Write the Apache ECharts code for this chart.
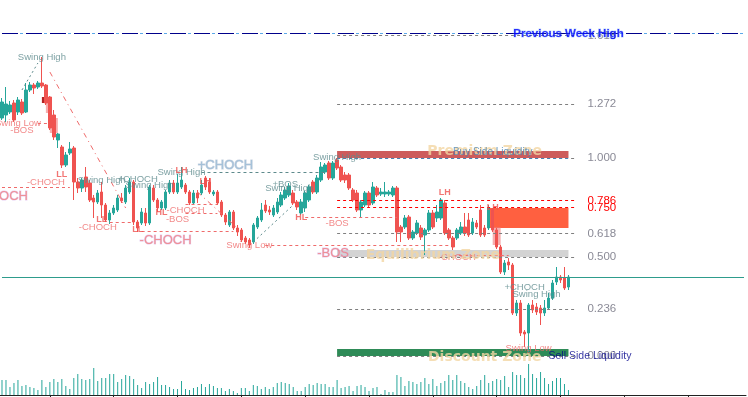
<!DOCTYPE html>
<html><head><meta charset="utf-8">
<script src="https://cdn.jsdelivr.net/npm/echarts/dist/echarts.min.js"></script>
<style>html,body{margin:0;padding:0;background:#fff;overflow:hidden}#c{width:748px;height:397px}</style>
</head><body><div id="c"></div>
<script>
// OHLC in price points: [open, close, low, high]
const candles = [
[238,254,236,258],[241,252,234,269],[244,251,242,255],[253,236,234,256],[244,256,241,259],
[254,243,241,257],[244,266,243,273],[266,271,264,274],[271,268,262,273],[269,273,267,275],
[273,270,268,299],[271,253,251,272],[259,228,226,260],[241,219,216,246],[216,222,208,223],
[209,191,188,211],[191,201,189,204],[203,207,201,214],[208,174,156,210],[174,168,163,178],
[168,176,164,178],[179,169,164,189],[173,156,154,176],[158,154,138,161],[154,163,152,166],
[164,151,138,174],[151,136,134,153],[136,143,132,146],[143,148,141,151],[146,158,144,161],
[158,155,153,163],[154,168,152,171],[164,174,162,178],[174,134,131,176],[134,128,124,136],
[133,144,131,148],[143,133,130,148],[133,169,131,171],[168,156,154,171],[156,148,144,158],
[148,154,146,156],[148,164,146,166],[164,173,162,176],[173,164,162,176],[164,173,162,182],
[169,176,167,189],[171,164,162,173],[164,153,151,166],[153,163,151,166],[163,158,153,166],
[163,171,161,176],[178,169,166,180],[174,164,162,178],[162,164,160,166],[164,153,151,166],
[154,141,139,156],[141,134,131,143],[131,144,129,146],[144,128,126,146],[128,124,120,131],
[126,116,114,128],[118,114,112,120],[116,111,108,118],[114,131,112,133],[129,138,127,140],
[136,146,134,153],[151,145,143,156],[146,144,141,150],[141,148,139,151],[144,154,142,158],
[151,161,149,164],[158,166,156,169],[161,170,159,173],[163,153,151,166],[154,149,146,156],
[143,154,141,157],[148,163,144,165],[156,169,154,171],[174,164,162,176],[164,178,162,181],
[176,189,174,194],[184,191,182,193],[193,178,176,195],[178,193,176,195],[196,188,186,198],
[189,176,174,191],[181,176,173,184],[181,168,166,183],[166,156,154,168],[163,146,144,166],
[146,154,139,156],[151,163,149,165],[163,151,149,165],[153,169,151,174],[168,161,159,170],
[162,164,160,168],[162,164,159,174],[162,164,160,166],[161,168,159,170],[168,124,114,170],
[129,124,114,131],[129,138,127,141],[139,118,116,141],[118,124,116,126],[123,133,121,136],
[128,119,116,131],[121,126,101,128],[126,143,124,146],[143,129,127,146],[138,144,134,151],
[138,156,136,158],[153,123,121,156],[126,118,116,128],[118,109,106,120],[118,126,116,128],
[123,129,121,134],[129,123,120,143],[136,121,119,143],[123,134,121,138],[133,129,127,136],
[146,121,119,151],[128,121,119,131],[128,148,126,151],[146,126,124,148],[126,109,107,128],
[109,84,82,111],[84,93,81,96],[94,91,86,98],[91,43,41,93],[43,53,40,56],
[53,23,20,56],[24,22,9,26],[23,51,4,53],[51,46,43,56],[49,44,41,53],
[48,43,31,51],[43,48,40,56],[48,58,46,63],[58,73,56,76],[74,79,71,89],
[79,76,73,81],[78,68,66,89],[69,79,66,81]
];
const volumes = [
15,15,8,12,15,9,10,8,7,5,15,8,13,16,13,16,9,6,17,21,16,15,16,27,14,17,17,21,21,13,
16,20,19,16,10,7,13,11,13,18,10,10,8,6,6,14,6,5,7,8,11,8,11,9,7,7,4,6,4,2,
7,7,4,10,9,6,8,6,8,12,13,12,11,
8,4,4,8,11,10,12,11,11,8,8,15,7,8,9,4,9,10,8,4,7,8,1,5,3,3,20,18,9,14,
13,11,13,17,11,16,9,12,14,20,15,20,14,12,8,6,9,15,20,12,14,16,15,19,8,23,20,20,17,31,
21,17,23,17,11,14,17,17,11,5
];
const slotCount = 187;
const fibHigh = 198, fibLow = 0;
const fibRatios = [1.618, 1.272, 1.0, 0.786, 0.75, 0.618, 0.5, 0.236, 0.0];
const fibTexts = ['1.618','1.272','1.000','0.786','0.750','0.618','0.500','0.236','0.000'];
const fibStart = 84, fibEnd = 144;
const zoneStart = 84, zoneEnd = 142;
const premiumZone = [198, 205];
const equilibriumZone = [99, 106];
const discountZone = [0, 7];
const orderBlock = [122, 142, 128, 148];
const obBoxes = [[10,12,253,259,'dark'],[11,12,243,253,'pink'],[12,14,223,238,'pink'],[123,125,111,129,'pink']];
const prevWeekHigh = 323;
const currentPrice = 79;
const annotations = [
['Swing High',10,299,'sh'],['Swing Low',4,233,'rs'],['-BOS',5,226,'rs'],['-CHOCH',11,174,'rs'],
['-CHOCH',0,160,'pk'],['LL',15,181,'rb'],['Swing High',25,176,'sh'],['+CHOCH',34,177,'sh'],
['Swing High',37,171,'sh'],['Swing High',45,184,'sh'],['LH',45,185,'rb'],['+CHOCH',56,191,'bl'],
['LH',51,174,'rb'],['-CHOCH',24,129,'rs'],['LL',25,136,'rb'],['LL',34,126,'rb'],
['-CHOCH',41,116,'pk'],['HL',40,143,'rb'],['-CHOCH',46,146,'rs'],['-BOS',44,137,'rs'],
['Swing Low',62,111,'rs'],['+BOS',71,172,'sh'],['Swing High',72,168,'sh'],['Swing High',84,199,'sh'],
['HL',75,138,'rb'],['-BOS',84,133,'rs'],['-BOS',83,103,'pk'],['-CHOCH',114,99,'rs'],
['LH',111,163,'rb'],['LH',123,148,'rb'],['+CHOCH',131,69,'sh'],['Swing High',134,62,'sh'],
['Swing Low',132,8,'rs'],
['Premium Zone',121,205,'zone'],['Buy Side Liquidity',123,204,'bsl'],
['Equilibrium Zone',108,101,'zone'],['Discount Zone',121,-1,'zone'],
['Sell Side Liquidity',137,0,'ssl'],['Previous Week High',142,322,'pwh']
];
const segments = [
[9,233,12,233,'rd'],[0,169,17,169,'rd'],[12,284,31,148,'rdd'],[5,266,9,293,'tdd'],
[27,134,33,134,'rd'],[35,125,58,125,'rd'],[66,111,112,111,'rd'],[50,184,81,184,'td'],
[46,152,54,152,'rd'],[46,143,54,143,'rd'],[76,139,99,139,'rd'],[49,164,59,128,'rdd'],
[63,114,73,151,'tdd'],[113,101,127,101,'rd']
];

const categories = Array.from({length: slotCount}, (_, i) => String(i));
const UP = '#26a69a', DOWN = '#ef5350';

const textStyles = {
  sh: {color:'#5d8a8c', fontSize:9.5, fontFamily:'Liberation Sans'},
  rs: {color:'#ef6b6b', fontSize:9.5, fontFamily:'Liberation Sans'},
  rb: {color:'#ef5350', fontSize:9, fontWeight:'bold', fontFamily:'Liberation Sans'},
  pk: {color:'#f08080', fontSize:13, fontFamily:'Liberation Sans', textBorderColor:'rgba(210,170,230,0.7)', textBorderWidth:1},
  bl: {color:'#9bbbd6', fontSize:13, fontFamily:'Liberation Sans', textBorderColor:'rgba(140,160,190,0.6)', textBorderWidth:1},
  zone: {color:'#f2d6a2', fontSize:14, fontWeight:'bold', fontFamily:'DejaVu Sans'},
  bsl: {color:'#4682b4', fontSize:10, fontFamily:'Liberation Sans'},
  ssl: {color:'#00008b', fontSize:10.5, fontFamily:'Liberation Sans', align:'left'},
  pwh: {color:'#0000ff', fontSize:11.5, fontWeight:'bold', fontFamily:'Liberation Sans', textBorderColor:'rgba(90,160,240,0.5)', textBorderWidth:1}
};
const segStyles = {
  rd: {color:'#ef6b6b', type:[3,3], width:1},
  td: {color:'#5d8a8c', type:[3,3], width:1},
  rdd: {color:'#ef6b6b', type:[5,4,1,4], width:1},
  tdd: {color:'#5d8a8c', type:[2,3], width:1}
};

const markLines = [];
fibRatios.forEach((r, k) => {
  const lvl = fibLow + r * (fibHigh - fibLow);
  const red = (r === 0.786 || r === 0.75);
  markLines.push([
    {coord:[fibStart, lvl], lineStyle:{color: red ? '#ff0000' : '#808080', type:[3,3], width:1},
     label:{show:true, position:'end', distance:11, formatter: fibTexts[k], color: red ? '#ff0000' : '#8a8a96',
            fontSize:11.5, fontFamily:'Liberation Sans'}},
    {coord:[fibEnd, lvl]}
  ]);
});
markLines.push([{coord:[zoneStart, fibHigh], lineStyle:{color:'#4682b4', type:[3,3], width:1}, label:{show:false}}, {coord:[zoneEnd, fibHigh]}]);
markLines.push([{coord:[0, prevWeekHigh], lineStyle:{color:'#5aa8e8', type:[3,3], width:1}, label:{show:false}}, {coord:[slotCount-1, prevWeekHigh]}]);
markLines.push([{coord:[0, prevWeekHigh], lineStyle:{color:'#00008b', type:[16,8], width:1.2}, label:{show:false}}, {coord:[slotCount-1, prevWeekHigh]}]);
markLines.push([{coord:[0, currentPrice], lineStyle:{color:'#2e9c8c', type:'solid', width:1}, label:{show:false}}, {coord:[slotCount-1, currentPrice]}]);
segments.forEach(s => {
  markLines.push([{coord:[s[0], s[1]], lineStyle: segStyles[s[4]], label:{show:false}}, {coord:[s[2], s[3]]}]);
});

const markAreas = [
  [{coord:[zoneStart, premiumZone[0]], itemStyle:{color:'#cd5c5c'}}, {coord:[zoneEnd, premiumZone[1]]}],
  [{coord:[zoneStart, equilibriumZone[0]], itemStyle:{color:'#d3d3d3'}}, {coord:[zoneEnd, equilibriumZone[1]]}],
  [{coord:[zoneStart, discountZone[0]], itemStyle:{color:'#2e8b57'}}, {coord:[zoneEnd, discountZone[1]]}],
  [{coord:[orderBlock[0], orderBlock[2]], itemStyle:{color:'#ff6040'}}, {coord:[orderBlock[1], orderBlock[3]]}]
];
obBoxes.forEach(b => {
  markAreas.push([{coord:[b[0], b[2]], itemStyle:{color: b[4] === 'dark' ? '#b22222' : 'rgba(240,120,120,0.6)'}}, {coord:[b[1], b[3]]}]);
});

const labelData = annotations.map(a => {
  const st = textStyles[a[3]];
  return {value:[a[1], a[2]], label:Object.assign({show:true, formatter:a[0], position:[0,0], align:'center', verticalAlign:'middle'}, st)};
});

const chart = echarts.init(document.getElementById('c'), null, {renderer:'canvas'});
chart.setOption({
  animation:false,
  backgroundColor:'#ffffff',
  grid:[
    {left:-2, top:0, width:748, height:396},
    {left:-2, top:355, width:748, height:40}
  ],
  xAxis:[
    {type:'category', gridIndex:0, data:categories, boundaryGap:true, show:false},
    {type:'category', gridIndex:1, data:categories, boundaryGap:true,
     axisLine:{show:true, lineStyle:{color:'#222', width:1}},
     axisTick:{show:true, alignWithLabel:true, length:3, lineStyle:{color:'#222'},
               interval:(idx) => (idx - 12) % 16 === 0},
     axisLabel:{show:false}, splitLine:{show:false}}
  ],
  yAxis:[
    {type:'value', gridIndex:0, min:-40, max:356, show:false, splitLine:{show:false}},
    {type:'value', gridIndex:1, min:0, max:40, show:false, splitLine:{show:false}}
  ],
  series:[
    {type:'bar', xAxisIndex:1, yAxisIndex:1, data:volumes, barWidth:1, itemStyle:{color:UP}, z:1},
    {type:'line', xAxisIndex:0, yAxisIndex:0, data:[], silent:true, z:2,
     markArea:{silent:true, data:markAreas, label:{show:false}}},
    {type:'line', xAxisIndex:0, yAxisIndex:0, data:[], silent:true, z:3,
     markLine:{silent:true, symbol:['none','none'], data:markLines}},
    {type:'candlestick', xAxisIndex:0, yAxisIndex:0, data:candles, barWidth:3, z:4,
     itemStyle:{color:UP, color0:DOWN, borderColor:UP, borderColor0:DOWN, borderWidth:1}},
    {type:'scatter', xAxisIndex:0, yAxisIndex:0, data:labelData, symbolSize:0, z:6, silent:true, clip:false}
  ]
});
</script>
</body></html>
